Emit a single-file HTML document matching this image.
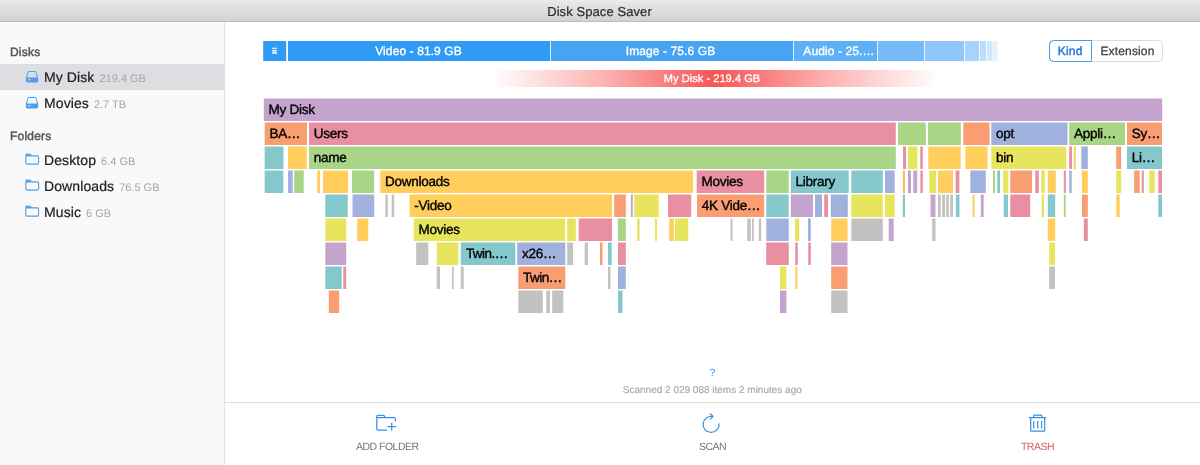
<!DOCTYPE html>
<html>
<head>
<meta charset="utf-8">
<title>Disk Space Saver</title>
<style>
html,body{margin:0;padding:0;}
body{width:1200px;height:465px;position:relative;overflow:hidden;background:#fff;font-family:"Liberation Sans",sans-serif;color:#222;text-rendering:geometricPrecision;}
#titlebar{position:absolute;left:0;top:0;width:1200px;height:21px;background:linear-gradient(#efeeef 0,#e8e6e8 8%,#d3d2d3 100%);border-bottom:1px solid #bdbcbd;text-align:center;font-size:13px;line-height:23px;color:#2c2c2c;-webkit-text-stroke:0.2px #2c2c2c;letter-spacing:0.08px;text-indent:-1px;}
#sidebar{position:absolute;left:0;top:22px;width:224px;height:443px;background:#f9f9f9;border-right:1px solid #e2e2e2;}
.sh{position:absolute;left:10px;font-size:12px;color:#555;line-height:14px;-webkit-text-stroke:0.45px #555;margin-top:-0.1px;letter-spacing:0.2px;}
.si{position:absolute;left:0;width:224px;height:26px;}
.si.sel{background:#dcdee2;}
.si .nm{position:absolute;left:44px;top:0;line-height:26px;font-size:14px;color:#1c1c1c;white-space:nowrap;-webkit-text-stroke:0.2px #1c1c1c;letter-spacing:0.1px;}
.si .sz{font-size:11px;color:#a6a6a6;margin-left:1px;-webkit-text-stroke:0;letter-spacing:0;}
.si svg{position:absolute;left:25px;top:6px;}
.si svg.d{top:5.6px;}
#map{position:absolute;left:0;top:0;width:1200px;height:465px;}
.tl{position:absolute;font-size:13.5px;line-height:22px;color:#050505;white-space:nowrap;-webkit-text-stroke:0.4px #050505;letter-spacing:-0.25px;}
.sl{position:absolute;top:41px;height:20px;line-height:20px;font-size:12px;color:#fff;text-align:center;white-space:nowrap;-webkit-text-stroke:0.35px #fff;letter-spacing:0.1px;}
.sl.menu{font-size:11px;font-weight:bold;transform:translate(0.2px,0.6px) scale(0.8,1.2);}
#redlbl{position:absolute;left:492px;top:70px;width:447px;height:17px;line-height:18.5px;letter-spacing:0.06px;overflow:hidden;text-align:center;font-size:11px;color:#fff;-webkit-text-stroke:0.3px #fff;text-indent:-7px;background:linear-gradient(90deg,rgba(250,90,90,0) 0%,rgba(252,115,115,.55) 25%,#f65555 50%,rgba(252,115,115,.55) 75%,rgba(250,90,90,0) 100%);}
#seg{position:absolute;left:1049px;top:40px;width:114px;height:22px;border:1px solid #dcdcdc;border-radius:4.5px;box-sizing:border-box;font-size:12px;}
#seg .k{position:absolute;left:-1px;top:-1px;width:43px;height:22px;box-sizing:border-box;border:1px solid #4a9be8;border-radius:4.5px 0 0 4.5px;color:#2a7fd8;text-align:center;line-height:21px;-webkit-text-stroke:0.45px #2578d6;letter-spacing:0.2px;text-indent:-0.6px;color:#2578d6;}
#seg .e{position:absolute;left:42.5px;top:0;width:70px;text-align:center;line-height:21px;color:#444;-webkit-text-stroke:0.3px #444;letter-spacing:0.15px;}
#q{position:absolute;left:702.5px;top:366.7px;width:20px;text-align:center;font-size:10.5px;color:#3a8de0;}
#scanned{position:absolute;left:512.3px;top:384px;width:400px;text-align:center;font-size:10px;color:#a8a8a8;-webkit-text-stroke:0.15px #a8a8a8;line-height:13px;}
#bottom{position:absolute;left:225px;top:402px;width:975px;height:63px;border-top:1px solid #dedede;box-sizing:border-box;}
.bt{position:absolute;top:441.4px;width:120px;text-align:center;font-size:10.5px;letter-spacing:-0.5px;color:#777;line-height:13px;}
.bi{position:absolute;}
</style>
</head>
<body>
<div id="titlebar">Disk Space Saver</div>
<div id="sidebar">
  <div class="sh" style="top:23px">Disks</div>
  <div class="si sel" style="top:42px"><svg class="d" width="14" height="14" viewBox="0 0 14 14"><path d="M1.3 8 L2.9 2.4 Q3.2 1.5 4.1 1.5 H9.9 Q10.8 1.5 11.1 2.4 L12.7 8 V11 Q12.7 12 11.7 12 H2.3 Q1.3 12 1.3 11 Z" fill="none" stroke="#4a9eea" stroke-width="1" stroke-linejoin="round"/><path d="M1.3 7.6 H12.7 V11 Q12.7 12 11.7 12 H2.3 Q1.3 12 1.3 11 Z" fill="#4a9eea"/><rect x="3" y="9.3" width="2.6" height="1" fill="#cfe6fb"/></svg><div class="nm">My Disk <span class="sz">219.4 GB</span></div></div>
  <div class="si" style="top:68px"><svg class="d" width="14" height="14" viewBox="0 0 14 14"><path d="M1.3 8 L2.9 2.4 Q3.2 1.5 4.1 1.5 H9.9 Q10.8 1.5 11.1 2.4 L12.7 8 V11 Q12.7 12 11.7 12 H2.3 Q1.3 12 1.3 11 Z" fill="none" stroke="#4a9eea" stroke-width="1" stroke-linejoin="round"/><path d="M1.3 7.6 H12.7 V11 Q12.7 12 11.7 12 H2.3 Q1.3 12 1.3 11 Z" fill="#4a9eea"/><rect x="3" y="9.3" width="2.6" height="1" fill="#cfe6fb"/></svg><div class="nm">Movies <span class="sz">2.7 TB</span></div></div>
  <div class="sh" style="top:107px">Folders</div>
  <div class="si" style="top:125px"><svg width="15" height="13" viewBox="0 0 15 13"><path d="M0.3 3 V1.7 Q0.3 0.5 1.5 0.5 H4.8 Q5.4 0.5 5.8 1 L7.2 2.9 Z" fill="#5fabef"/><rect x="0.8" y="2.9" width="12.8" height="8.2" rx="1.3" fill="none" stroke="#4a9eea" stroke-width="1.1"/></svg><div class="nm">Desktop <span class="sz">6.4 GB</span></div></div>
  <div class="si" style="top:151px"><svg width="15" height="13" viewBox="0 0 15 13"><path d="M0.3 3 V1.7 Q0.3 0.5 1.5 0.5 H4.8 Q5.4 0.5 5.8 1 L7.2 2.9 Z" fill="#5fabef"/><rect x="0.8" y="2.9" width="12.8" height="8.2" rx="1.3" fill="none" stroke="#4a9eea" stroke-width="1.1"/></svg><div class="nm">Downloads <span class="sz">76.5 GB</span></div></div>
  <div class="si" style="top:177px"><svg width="15" height="13" viewBox="0 0 15 13"><path d="M0.3 3 V1.7 Q0.3 0.5 1.5 0.5 H4.8 Q5.4 0.5 5.8 1 L7.2 2.9 Z" fill="#5fabef"/><rect x="0.8" y="2.9" width="12.8" height="8.2" rx="1.3" fill="none" stroke="#4a9eea" stroke-width="1.1"/></svg><div class="nm">Music <span class="sz">6 GB</span></div></div>
</div>
<svg id="map" width="1200" height="465" viewBox="0 0 1200 465">
<rect x="263.2" y="41" width="23.0" height="20" fill="#2f9bf4"/>
<rect x="288.0" y="41" width="262.1" height="20" fill="#2f9bf4"/>
<rect x="550.9" y="41" width="242.2" height="20" fill="#47a4f4"/>
<rect x="793.9" y="41" width="83.2" height="20" fill="#5eaff6"/>
<rect x="877.9" y="41" width="46.2" height="20" fill="#76bbf7"/>
<rect x="924.9" y="41" width="39.2" height="20" fill="#8fc7f9"/>
<rect x="964.9" y="41" width="14.2" height="20" fill="#a7d3fa"/>
<rect x="979.9" y="41" width="6.2" height="20" fill="#bcdefb"/>
<rect x="986.9" y="41" width="5.7" height="20" fill="#d0e8fc"/>
<rect x="993.3" y="41" width="4.2" height="20" fill="#e3f1fd"/>
<rect x="263.8" y="98.50" width="898.4" height="22.5" fill="#c5a3cf"/>
<rect x="264.7" y="122.50" width="42.3" height="22.5" fill="#f99d72"/>
<rect x="309.0" y="122.50" width="586.8" height="22.5" fill="#e98fa2"/>
<rect x="898.0" y="122.50" width="27.8" height="22.5" fill="#a9d587"/>
<rect x="928.0" y="122.50" width="32.8" height="22.5" fill="#a9d587"/>
<rect x="963.3" y="122.50" width="26.2" height="22.5" fill="#f99d72"/>
<rect x="991.3" y="122.50" width="76.2" height="22.5" fill="#a1b1de"/>
<rect x="1069.2" y="122.50" width="55.8" height="22.5" fill="#a9d587"/>
<rect x="1127.0" y="122.50" width="35.0" height="22.5" fill="#f99d72"/>
<rect x="264.7" y="146.50" width="18.8" height="22.5" fill="#85c8cc"/>
<rect x="288.0" y="146.50" width="18.7" height="22.5" fill="#ffce5c"/>
<rect x="309.0" y="146.50" width="586.8" height="22.5" fill="#a9d587"/>
<rect x="903.0" y="146.50" width="3.0" height="22.5" fill="#e98fa2"/>
<rect x="908.0" y="146.50" width="9.5" height="22.5" fill="#e7e55d"/>
<rect x="920.3" y="146.50" width="2.5" height="22.5" fill="#e98fa2"/>
<rect x="928.3" y="146.50" width="32.5" height="22.5" fill="#ffce5c"/>
<rect x="965.3" y="146.50" width="22.2" height="22.5" fill="#ffce5c"/>
<rect x="991.3" y="146.50" width="75.0" height="22.5" fill="#e7e55d"/>
<rect x="1069.2" y="146.50" width="2.8" height="22.5" fill="#e98fa2"/>
<rect x="1073.8" y="146.50" width="2.0" height="22.5" fill="#ffce5c"/>
<rect x="1081.3" y="146.50" width="6.5" height="22.5" fill="#a1b1de"/>
<rect x="1116.2" y="146.50" width="5.0" height="22.5" fill="#f99d72"/>
<rect x="1127.0" y="146.50" width="35.0" height="22.5" fill="#85c8cc"/>
<rect x="264.7" y="170.50" width="18.6" height="22.5" fill="#85c8cc"/>
<rect x="288.0" y="170.50" width="4.7" height="22.5" fill="#a1b1de"/>
<rect x="294.2" y="170.50" width="9.5" height="22.5" fill="#a9d587"/>
<rect x="317.2" y="170.50" width="2.8" height="22.5" fill="#ffce5c"/>
<rect x="323.0" y="170.50" width="25.0" height="22.5" fill="#ffce5c"/>
<rect x="352.0" y="170.50" width="22.2" height="22.5" fill="#a9d587"/>
<rect x="380.3" y="170.50" width="312.7" height="22.5" fill="#ffce5c"/>
<rect x="696.7" y="170.50" width="67.5" height="22.5" fill="#e98fa2"/>
<rect x="766.3" y="170.50" width="22.4" height="22.5" fill="#a9d587"/>
<rect x="790.8" y="170.50" width="57.9" height="22.5" fill="#85c8cc"/>
<rect x="851.3" y="170.50" width="31.5" height="22.5" fill="#85c8cc"/>
<rect x="885.0" y="170.50" width="9.7" height="22.5" fill="#a1b1de"/>
<rect x="902.8" y="170.50" width="2.2" height="22.5" fill="#f9bd66"/>
<rect x="908.0" y="170.50" width="3.0" height="22.5" fill="#c5a3cf"/>
<rect x="913.3" y="170.50" width="3.9" height="22.5" fill="#c5a3cf"/>
<rect x="920.4" y="170.50" width="2.4" height="22.5" fill="#e98fa2"/>
<rect x="929.3" y="170.50" width="6.9" height="22.5" fill="#e7e55d"/>
<rect x="938.0" y="170.50" width="15.0" height="22.5" fill="#ffce5c"/>
<rect x="955.6" y="170.50" width="3.8" height="22.5" fill="#e98fa2"/>
<rect x="970.3" y="170.50" width="15.5" height="22.5" fill="#a1b1de"/>
<rect x="993.0" y="170.50" width="2.0" height="22.5" fill="#a9d587"/>
<rect x="997.2" y="170.50" width="2.8" height="22.5" fill="#85c8cc"/>
<rect x="1003.0" y="170.50" width="5.3" height="22.5" fill="#e7e55d"/>
<rect x="1010.3" y="170.50" width="21.7" height="22.5" fill="#f99d72"/>
<rect x="1035.3" y="170.50" width="3.5" height="22.5" fill="#e98fa2"/>
<rect x="1041.3" y="170.50" width="3.5" height="22.5" fill="#e7e55d"/>
<rect x="1047.8" y="170.50" width="8.0" height="22.5" fill="#ffce5c"/>
<rect x="1063.8" y="170.50" width="2.0" height="22.5" fill="#e98fa2"/>
<rect x="1069.2" y="170.50" width="2.5" height="22.5" fill="#a1b1de"/>
<rect x="1082.0" y="170.50" width="5.8" height="22.5" fill="#ffce5c"/>
<rect x="1116.2" y="170.50" width="5.0" height="22.5" fill="#e7e55d"/>
<rect x="1134.2" y="170.50" width="5.5" height="22.5" fill="#f99d72"/>
<rect x="1141.7" y="170.50" width="2.1" height="22.5" fill="#e98fa2"/>
<rect x="1149.2" y="170.50" width="5.5" height="22.5" fill="#e7e55d"/>
<rect x="1158.3" y="170.50" width="3.7" height="22.5" fill="#e98fa2"/>
<rect x="325.3" y="194.50" width="22.5" height="22.5" fill="#85c8cc"/>
<rect x="352.5" y="194.50" width="21.7" height="22.5" fill="#a1b1de"/>
<rect x="385.3" y="194.50" width="2.5" height="22.5" fill="#c2c2c2"/>
<rect x="391.7" y="194.50" width="2.5" height="22.5" fill="#c2c2c2"/>
<rect x="409.5" y="194.50" width="202.5" height="22.5" fill="#ffce5c"/>
<rect x="614.2" y="194.50" width="11.6" height="22.5" fill="#f99d72"/>
<rect x="630.8" y="194.50" width="2.0" height="22.5" fill="#c5a3cf"/>
<rect x="634.2" y="194.50" width="24.6" height="22.5" fill="#e7e55d"/>
<rect x="668.0" y="194.50" width="23.2" height="22.5" fill="#e98fa2"/>
<rect x="697.0" y="194.50" width="67.2" height="22.5" fill="#f99d72"/>
<rect x="766.3" y="194.50" width="22.4" height="22.5" fill="#85c8cc"/>
<rect x="790.8" y="194.50" width="22.2" height="22.5" fill="#c5a3cf"/>
<rect x="815.0" y="194.50" width="7.0" height="22.5" fill="#a1b1de"/>
<rect x="824.2" y="194.50" width="3.8" height="22.5" fill="#e98fa2"/>
<rect x="830.8" y="194.50" width="17.0" height="22.5" fill="#a1b1de"/>
<rect x="851.3" y="194.50" width="31.5" height="22.5" fill="#e7e55d"/>
<rect x="885.0" y="194.50" width="9.7" height="22.5" fill="#e7e55d"/>
<rect x="902.8" y="194.50" width="2.2" height="22.5" fill="#85c8cc"/>
<rect x="930.5" y="194.50" width="5.0" height="22.5" fill="#c5a3cf"/>
<rect x="938.0" y="194.50" width="2.8" height="22.5" fill="#c2c2c2"/>
<rect x="942.2" y="194.50" width="2.8" height="22.5" fill="#c2c2c2"/>
<rect x="946.2" y="194.50" width="2.6" height="22.5" fill="#c2c2c2"/>
<rect x="950.2" y="194.50" width="2.8" height="22.5" fill="#c2c2c2"/>
<rect x="955.8" y="194.50" width="3.7" height="22.5" fill="#85c8cc"/>
<rect x="972.5" y="194.50" width="2.0" height="22.5" fill="#ffce5c"/>
<rect x="980.8" y="194.50" width="2.9" height="22.5" fill="#c5a3cf"/>
<rect x="1003.8" y="194.50" width="4.2" height="22.5" fill="#85c8cc"/>
<rect x="1010.3" y="194.50" width="19.9" height="22.5" fill="#e98fa2"/>
<rect x="1041.7" y="194.50" width="2.3" height="22.5" fill="#e7e55d"/>
<rect x="1047.8" y="194.50" width="7.4" height="22.5" fill="#85c8cc"/>
<rect x="1063.8" y="194.50" width="1.9" height="22.5" fill="#a9d587"/>
<rect x="1082.0" y="194.50" width="5.8" height="22.5" fill="#f99d72"/>
<rect x="1116.2" y="194.50" width="3.5" height="22.5" fill="#ffce5c"/>
<rect x="1158.3" y="194.50" width="3.7" height="22.5" fill="#85c8cc"/>
<rect x="325.3" y="218.50" width="20.9" height="22.5" fill="#e7e55d"/>
<rect x="357.2" y="218.50" width="11.1" height="22.5" fill="#ffce5c"/>
<rect x="413.7" y="218.50" width="151.3" height="22.5" fill="#e7e55d"/>
<rect x="567.2" y="218.50" width="8.6" height="22.5" fill="#e7e55d"/>
<rect x="578.7" y="218.50" width="33.3" height="22.5" fill="#e98fa2"/>
<rect x="617.8" y="218.50" width="8.0" height="22.5" fill="#a9d587"/>
<rect x="637.2" y="218.50" width="2.5" height="22.5" fill="#e7e55d"/>
<rect x="655.0" y="218.50" width="2.0" height="22.5" fill="#e7e55d"/>
<rect x="669.2" y="218.50" width="4.6" height="22.5" fill="#ffce5c"/>
<rect x="675.0" y="218.50" width="13.3" height="22.5" fill="#e7e55d"/>
<rect x="730.5" y="218.50" width="2.0" height="22.5" fill="#c2c2c2"/>
<rect x="747.2" y="218.50" width="3.6" height="22.5" fill="#c2c2c2"/>
<rect x="752.0" y="218.50" width="1.8" height="22.5" fill="#c2c2c2"/>
<rect x="758.8" y="218.50" width="2.4" height="22.5" fill="#c2c2c2"/>
<rect x="766.3" y="218.50" width="22.4" height="22.5" fill="#a1b1de"/>
<rect x="795.0" y="218.50" width="4.2" height="22.5" fill="#e7e55d"/>
<rect x="808.0" y="218.50" width="2.8" height="22.5" fill="#a1b1de"/>
<rect x="831.2" y="218.50" width="16.3" height="22.5" fill="#ffce5c"/>
<rect x="851.3" y="218.50" width="31.5" height="22.5" fill="#c2c2c2"/>
<rect x="888.7" y="218.50" width="5.0" height="22.5" fill="#c5a3cf"/>
<rect x="932.2" y="218.50" width="3.3" height="22.5" fill="#c2c2c2"/>
<rect x="1047.8" y="218.50" width="7.4" height="22.5" fill="#ffce5c"/>
<rect x="1083.8" y="218.50" width="4.0" height="22.5" fill="#e98fa2"/>
<rect x="325.3" y="242.50" width="20.9" height="22.5" fill="#c5a3cf"/>
<rect x="416.2" y="242.50" width="12.1" height="22.5" fill="#c2c2c2"/>
<rect x="436.7" y="242.50" width="21.6" height="22.5" fill="#e7e55d"/>
<rect x="460.8" y="242.50" width="54.5" height="22.5" fill="#85c8cc"/>
<rect x="517.2" y="242.50" width="48.1" height="22.5" fill="#a1b1de"/>
<rect x="567.2" y="242.50" width="5.8" height="22.5" fill="#c2c2c2"/>
<rect x="584.7" y="242.50" width="3.3" height="22.5" fill="#c2c2c2"/>
<rect x="600.0" y="242.50" width="2.5" height="22.5" fill="#f99d72"/>
<rect x="608.0" y="242.50" width="3.7" height="22.5" fill="#85c8cc"/>
<rect x="618.0" y="242.50" width="7.8" height="22.5" fill="#e98fa2"/>
<rect x="766.2" y="242.50" width="22.6" height="22.5" fill="#e98fa2"/>
<rect x="795.3" y="242.50" width="2.5" height="22.5" fill="#e98fa2"/>
<rect x="808.3" y="242.50" width="2.5" height="22.5" fill="#e98fa2"/>
<rect x="831.2" y="242.50" width="16.3" height="22.5" fill="#c5a3cf"/>
<rect x="1049.2" y="242.50" width="5.8" height="22.5" fill="#e7e55d"/>
<rect x="325.3" y="266.50" width="16.4" height="22.5" fill="#85c8cc"/>
<rect x="343.3" y="266.50" width="2.9" height="22.5" fill="#e98fa2"/>
<rect x="436.7" y="266.50" width="3.3" height="22.5" fill="#c2c2c2"/>
<rect x="452.0" y="266.50" width="1.7" height="22.5" fill="#c2c2c2"/>
<rect x="460.8" y="266.50" width="2.9" height="22.5" fill="#c2c2c2"/>
<rect x="518.3" y="266.50" width="47.0" height="22.5" fill="#f99d72"/>
<rect x="608.0" y="266.50" width="2.5" height="22.5" fill="#c2c2c2"/>
<rect x="618.0" y="266.50" width="7.8" height="22.5" fill="#a1b1de"/>
<rect x="780.0" y="266.50" width="6.4" height="22.5" fill="#e7e55d"/>
<rect x="795.3" y="266.50" width="2.2" height="22.5" fill="#ffce5c"/>
<rect x="831.2" y="266.50" width="16.3" height="22.5" fill="#f99d72"/>
<rect x="1049.2" y="266.50" width="5.8" height="22.5" fill="#c2c2c2"/>
<rect x="328.8" y="290.50" width="10.4" height="22.5" fill="#f99d72"/>
<rect x="518.3" y="290.50" width="24.5" height="22.5" fill="#c2c2c2"/>
<rect x="546.3" y="290.50" width="3.7" height="22.5" fill="#c2c2c2"/>
<rect x="552.2" y="290.50" width="11.1" height="22.5" fill="#c2c2c2"/>
<rect x="618.0" y="290.50" width="4.5" height="22.5" fill="#85c8cc"/>
<rect x="780.0" y="290.50" width="6.4" height="22.5" fill="#c5a3cf"/>
<rect x="831.2" y="290.50" width="16.3" height="22.5" fill="#c2c2c2"/>
</svg>
<div id="redlbl">My Disk - 219.4 GB</div>
<div class="sl menu" style="left:263.2px;width:23.0px">≡</div>
<div class="sl" style="left:287.5px;width:262.1px">Video - 81.9 GB</div>
<div class="sl" style="left:549.4px;width:242.2px">Image - 75.6 GB</div>
<div class="sl" style="left:797.4px;width:83.2px">Audio - 25.…</div>
<div class="tl" style="left:268.5px;top:99.00px">My Disk</div>
<div class="tl" style="left:269.4px;top:123.00px">BA…</div>
<div class="tl" style="left:313.7px;top:123.00px">Users</div>
<div class="tl" style="left:996.0px;top:123.00px">opt</div>
<div class="tl" style="left:1073.9px;top:123.00px">Appli…</div>
<div class="tl" style="left:1131.7px;top:123.00px">Sy…</div>
<div class="tl" style="left:313.7px;top:147.00px">name</div>
<div class="tl" style="left:996.0px;top:147.00px">bin</div>
<div class="tl" style="left:1131.7px;top:147.00px">Li…</div>
<div class="tl" style="left:385.0px;top:171.00px">Downloads</div>
<div class="tl" style="left:701.4px;top:171.00px">Movies</div>
<div class="tl" style="left:795.5px;top:171.00px">Library</div>
<div class="tl" style="left:414.2px;top:195.00px">-Video</div>
<div class="tl" style="left:701.7px;top:195.00px">4K Vide…</div>
<div class="tl" style="left:418.4px;top:219.00px">Movies</div>
<div class="tl" style="left:465.9px;top:243.00px;letter-spacing:-0.55px">Twin.…</div>
<div class="tl" style="left:521.9px;top:243.00px">x26…</div>
<div class="tl" style="left:523.0px;top:267.00px;letter-spacing:-0.5px">Twin…</div>
<div id="seg"><div class="k">Kind</div><div class="e">Extension</div></div>
<div id="q">?</div>
<div id="scanned">Scanned 2 029 088 items 2 minutes ago</div>
<div id="bottom"></div>
<svg class="bi" style="left:375px;top:414px" width="23" height="18" viewBox="0 0 23 18"><path d="M12 16 H3 Q1.8 16 1.8 14.8 V2.6 Q1.8 1.4 3 1.4 H8.4 Q9 1.4 9.4 2 L10.4 3.7 H19.2 Q20.4 3.7 20.4 4.9 V7.2 M1.8 3.7 H10.4" fill="none" stroke="#3a8ee4" stroke-width="1.25" stroke-linejoin="round"/><path d="M16.7 8.7 V16.6 M12.6 12.6 H21" fill="none" stroke="#3a8ee4" stroke-width="1.25"/></svg>
<div class="bt" style="left:327.3px">ADD FOLDER</div>
<svg class="bi" style="left:700px;top:412px" width="22" height="24" viewBox="0 0 22 24"><path d="M19 11.3 A8 8 0 1 1 12.86 4.6" fill="none" stroke="#3a8ee4" stroke-width="1.25"/><path d="M10 1.5 L13 4.4 L10.4 7.3" fill="none" stroke="#3a8ee4" stroke-width="1.25"/></svg>
<div class="bt" style="left:652.5px">SCAN</div>
<svg class="bi" style="left:1028px;top:413px" width="20" height="20" viewBox="0 0 20 20"><path d="M1 4.7 H18.2 M5.6 4.7 V3 Q5.6 2.1 6.5 2.1 H13 Q13.9 2.1 13.9 3 V4.7 M2.7 4.7 V17.4 Q2.7 18.2 3.5 18.2 H15.9 Q16.7 18.2 16.7 17.4 V4.7 M5.7 7.9 V15.6 M9.7 7.9 V15.6 M13.6 7.9 V15.6" fill="none" stroke="#3a8ee4" stroke-width="1.2"/></svg>
<div class="bt" style="left:977.5px;color:#d9625c">TRASH</div>
</body>
</html>
